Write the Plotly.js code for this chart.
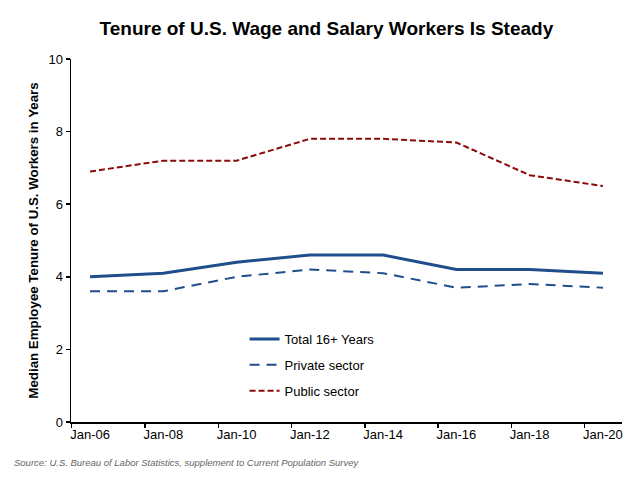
<!DOCTYPE html>
<html>
<head>
<meta charset="utf-8">
<script src="https://cdn.plot.ly/plotly-3.0.1.min.js"></script>
<style>html,body{margin:0;padding:0;background:#fff;}#chart{width:640px;height:478px;}</style>
</head>
<body>
<div id="chart"></div>
<script>
var years = [2006, 2008, 2010, 2012, 2014, 2016, 2018, 2020];
var tickLabels = ["Jan-06", "Jan-08", "Jan-10", "Jan-12", "Jan-14", "Jan-16", "Jan-18", "Jan-20"];
var totalYears = [4.0, 4.1, 4.4, 4.6, 4.6, 4.2, 4.2, 4.1];
var privateSector = [3.6, 3.6, 4.0, 4.2, 4.1, 3.7, 3.8, 3.7];
var publicSector = [6.9, 7.2, 7.2, 7.8, 7.8, 7.7, 6.8, 6.5];

var FONT = '"Liberation Sans", Arial, sans-serif';
var minorTicks = years.map(function (y) { return y - 0.5; });

var traces = [
  {x: years, y: totalYears, name: 'Total 16+ Years', mode: 'lines', legendgroup: 'a',
   line: {color: '#1F4E8C', width: 3}},
  {x: years, y: privateSector, name: 'Private sector', mode: 'lines', legendgroup: 'b',
   line: {color: '#1F4E8C', width: 2, dash: '10px,7px'}},
  {x: years, y: publicSector, name: 'Public sector', mode: 'lines', legendgroup: 'c',
   line: {color: '#8B0A0A', width: 2, dash: '6px,3px'}}
];

var layout = {
  width: 640, height: 478,
  margin: {l: 71, r: 18, t: 59, b: 56},
  paper_bgcolor: '#fff', plot_bgcolor: '#fff',
  font: {family: FONT, size: 13, color: '#000'},
  showlegend: true,
  title: {text: '<b>Tenure of U.S. Wage and Salary Workers Is Steady</b>',
          font: {family: FONT, size: 19, color: '#000'},
          x: 0.51, xanchor: 'center', y: 1 - 28/478, yanchor: 'middle', yref: 'container'},
  xaxis: {range: [2005.48, 2020.52], tickvals: years, ticktext: tickLabels, ticks: '',
          showline: true, linecolor: '#000', linewidth: 1.5, showgrid: false, zeroline: false,
          tickfont: {family: FONT, size: 13, color: '#000'},
          minor: {tickvals: minorTicks, ticks: 'outside', ticklen: 4, tickcolor: '#000', tickwidth: 1.5, showgrid: false},
          fixedrange: true},
  yaxis: {range: [0, 10], dtick: 2, ticks: 'outside', ticklen: 4, tickcolor: '#000', tickwidth: 1.5,
          showline: true, linecolor: '#000', linewidth: 1.5, showgrid: false, zeroline: false,
          tickfont: {family: FONT, size: 13, color: '#000'},
          title: {text: '<b>Median Employee Tenure of U.S. Workers in Years</b>',
                  font: {family: FONT, size: 13.3, color: '#000'}, standoff: 7},
          fixedrange: true},
  legend: {x: 0.315, y: 0.27, xanchor: 'left', yanchor: 'top', bgcolor: 'rgba(0,0,0,0)',
           font: {family: FONT, size: 13, color: '#000'}, traceorder: 'grouped', tracegroupgap: 6},
  annotations: [{
    text: '<i>Source: U.S. Bureau of Labor Statistics, supplement to Current Population Survey</i>',
    xref: 'paper', yref: 'paper', x: (12 - 71) / 551, y: (422 - 463) / 363,
    xanchor: 'left', yanchor: 'middle', showarrow: false,
    font: {family: FONT, size: 9.5, color: '#666'}
  }]
};

Plotly.newPlot('chart', traces, layout, {displayModeBar: false, staticPlot: true});
</script>
</body>
</html>
